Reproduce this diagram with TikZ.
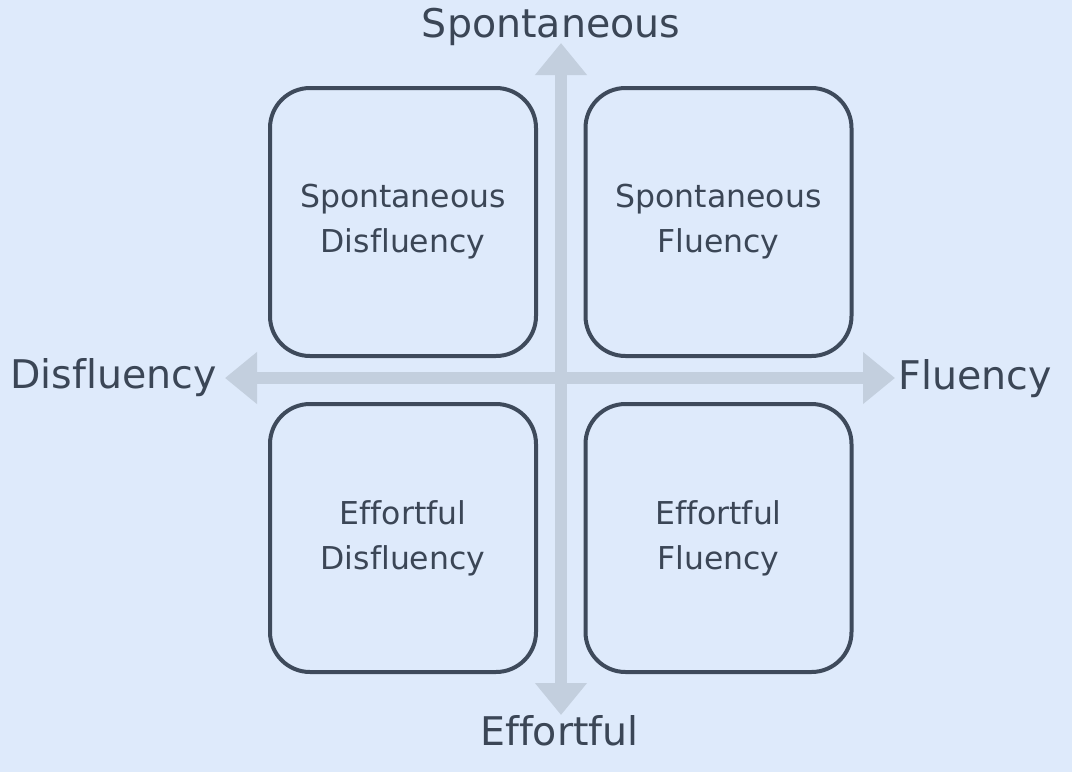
\documentclass[tikz,border=0pt]{standalone}
\usepackage{fontspec}
\setmainfont[Ligatures=NoCommon]{DejaVu Sans}
\usetikzlibrary{arrows.meta}
\definecolor{bgc}{HTML}{DEEAFB}
\definecolor{axisc}{HTML}{C3CFDE}
\definecolor{boxc}{HTML}{3E4A5B}
\definecolor{txtc}{HTML}{3B4656}
\tikzset{
  quad/.style={draw=boxc, line width=4pt, rounded corners=40pt, minimum width=266pt, minimum height=268pt, inner sep=0pt, align=center, text=txtc, font=\fontsize{31.5}{45}\selectfont},
  axislabel/.style={text=txtc, font=\fontsize{39.5}{46}\selectfont, anchor=base, inner sep=0pt},
  axisarrow/.style={draw=axisc, line width=12pt, {Triangle[width=50pt,length=32pt]}-{Triangle[width=50pt,length=32pt]}}
}
\begin{document}
\begin{tikzpicture}[x=1pt,y=-1pt]
\fill[bgc] (0,0) rectangle (1072,772);
\useasboundingbox (0,0) rectangle (1072,772);
\coordinate (top) at (561,43);
\coordinate (bottom) at (561,715);
\coordinate (left) at (225,378);
\coordinate (right) at (895,378);
\draw[axisarrow] (bottom) -- (top);
\draw[axisarrow] (left) -- (right);
\node[quad] (sd) at (403,222) {Spontaneous\\Disfluency};
\node[quad] (sf) at (718.5,222) {Spontaneous\\Fluency};
\node[quad] (ed) at (403,538) {Effortful\\Disfluency};
\node[quad] (ef) at (718.5,538) {Effortful\\Fluency};
\node[axislabel] (lsp) at (551,37) {Spontaneous};
\node[axislabel] (lef) at (559.5,745) {Effortful};
\node[axislabel] (ldi) at (113.5,388) {Disfluency};
\node[axislabel] (lfl) at (975,389) {Fluency};
\end{tikzpicture}
\end{document}
